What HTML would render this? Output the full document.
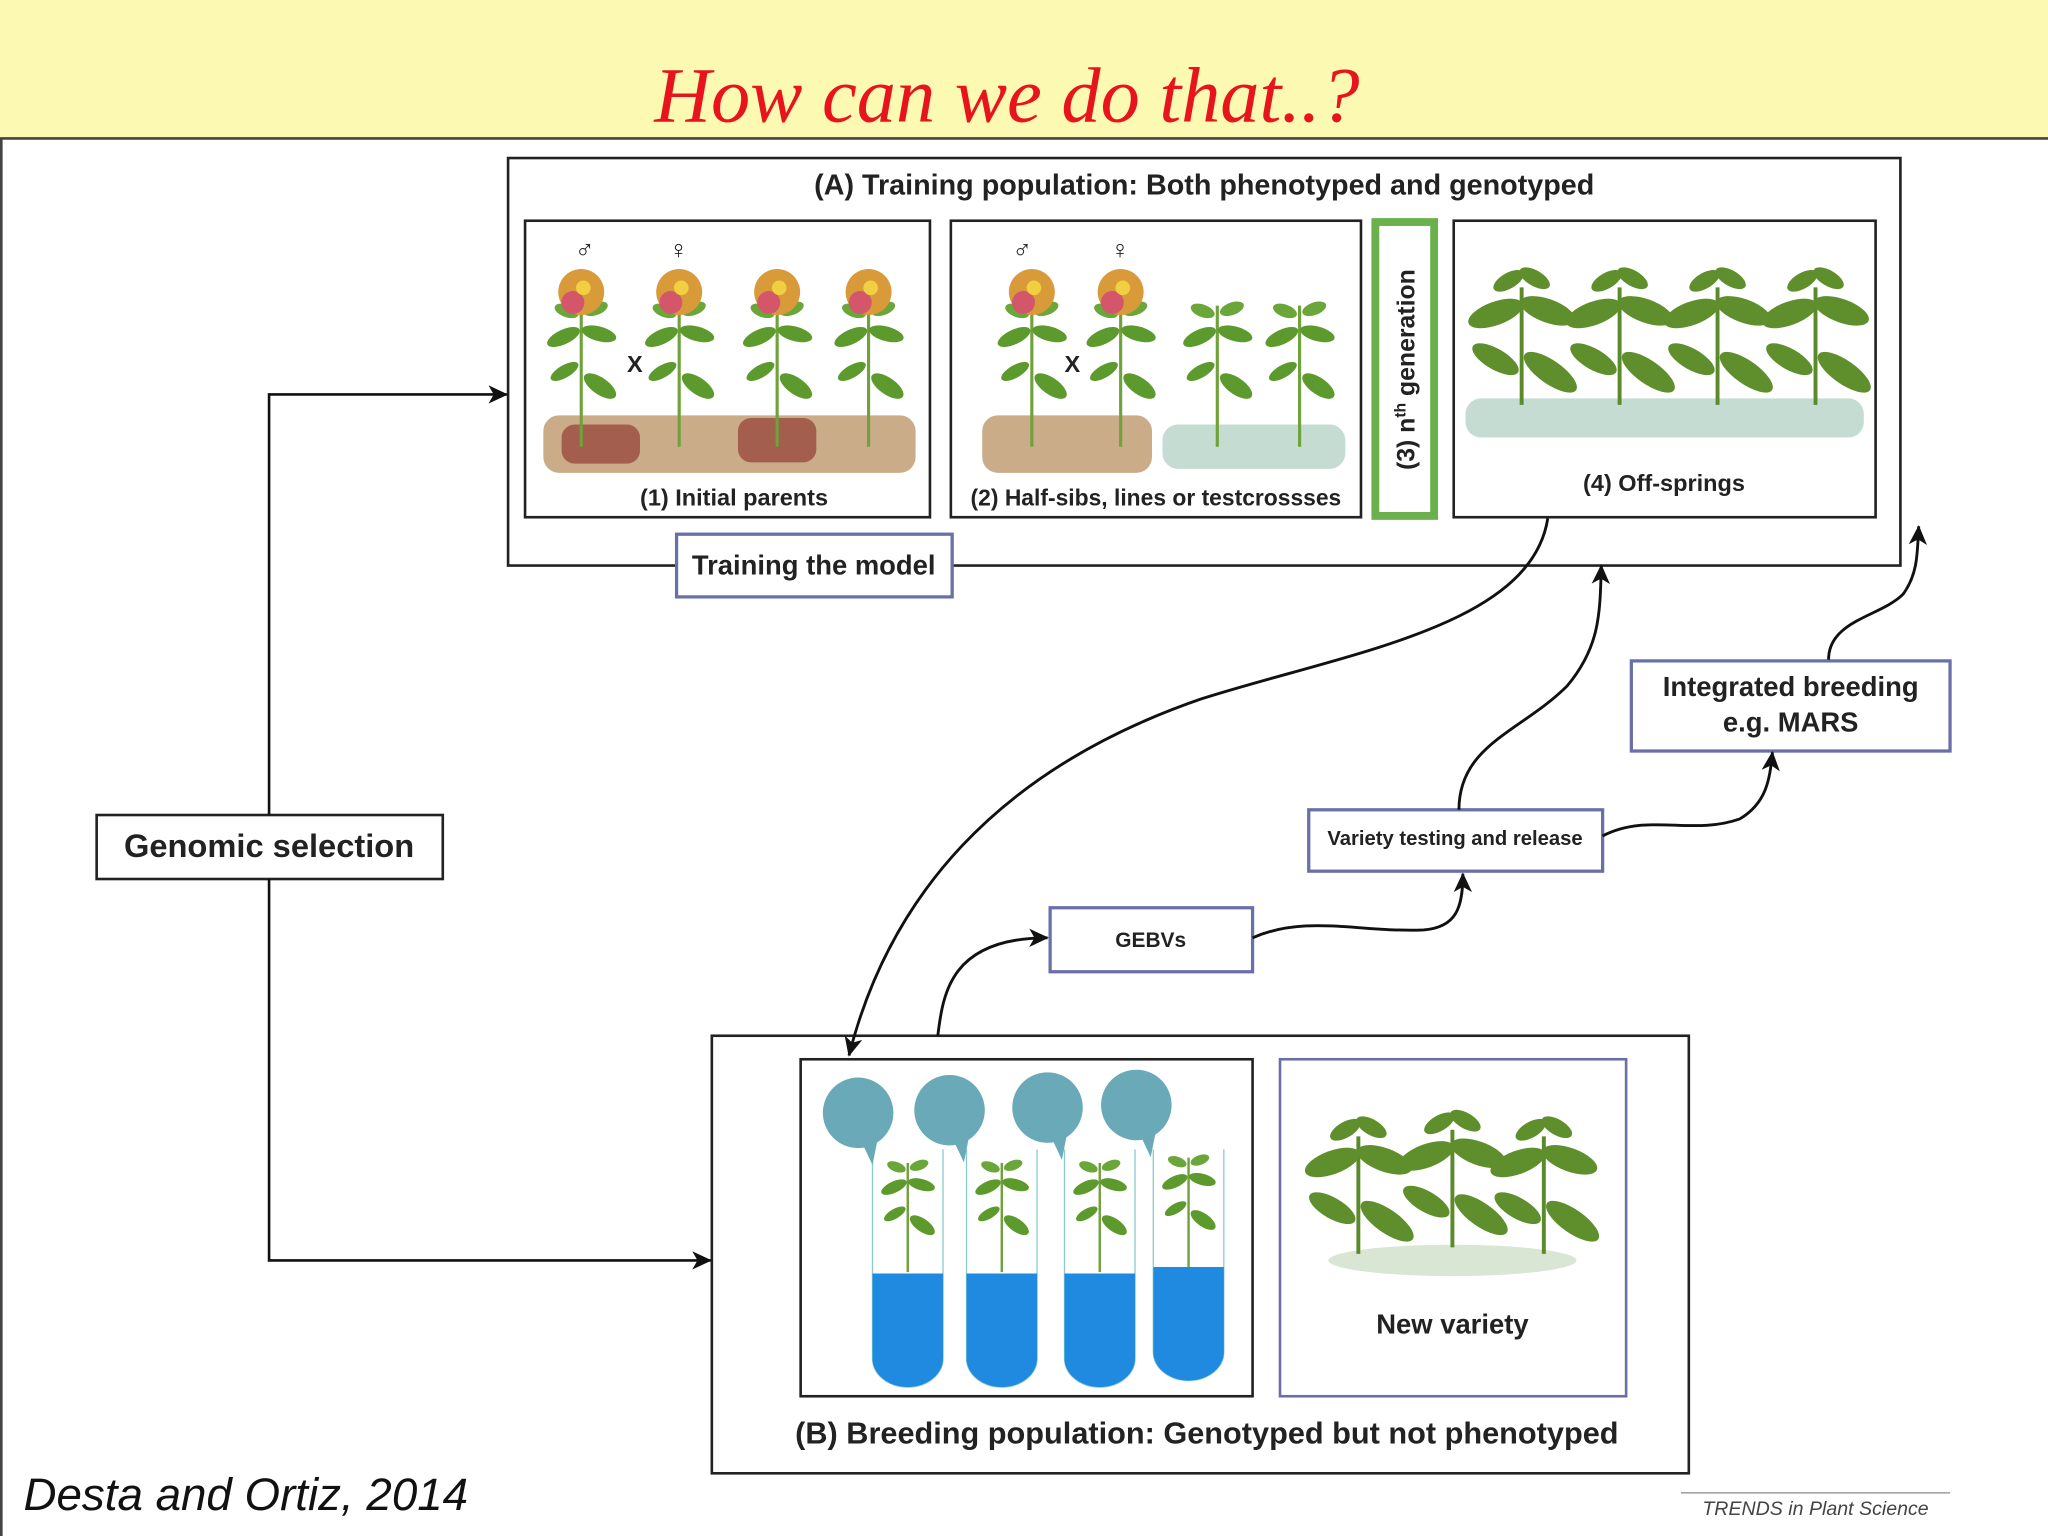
<!DOCTYPE html>
<html><head><meta charset="utf-8"><style>
html,body{margin:0;padding:0;background:#fff}
svg{display:block}
</style></head><body>
<svg width="2048" height="1536" viewBox="0 0 1568 1176" xmlns="http://www.w3.org/2000/svg">
<defs>
<marker id="ah" markerWidth="16" markerHeight="14" refX="14" refY="7" orient="auto" markerUnits="userSpaceOnUse">
<path d="M0,0 L15,7 L0,14 L4,7 z" fill="#111"/></marker>
<symbol id="plant" overflow="visible">
<line x1="0" y1="0" x2="0" y2="-135" stroke="#6fa23a" stroke-width="3"/>
<ellipse cx="-17" cy="-105" rx="17" ry="7" transform="rotate(-25 -17 -105)" fill="#5d9a2e"/>
<ellipse cx="17" cy="-108" rx="17" ry="7" transform="rotate(15 17 -108)" fill="#5d9a2e"/>
<ellipse cx="-16" cy="-72" rx="15" ry="6" transform="rotate(-30 -16 -72)" fill="#5d9a2e"/>
<ellipse cx="18" cy="-58" rx="18" ry="8" transform="rotate(35 18 -58)" fill="#5d9a2e"/>
<ellipse cx="-14" cy="-130" rx="12" ry="6" transform="rotate(20 -14 -130)" fill="#6aa63a"/>
<ellipse cx="14" cy="-132" rx="12" ry="6" transform="rotate(-20 14 -132)" fill="#6aa63a"/>
</symbol>
<symbol id="fplant" overflow="visible">
<use href="#plant"/>
<circle cx="0" cy="-148" r="22" fill="#d99a3a"/>
<circle cx="-8" cy="-138" r="11" fill="#d4566a"/>
<circle cx="2" cy="-152" r="7" fill="#f0d040"/>
</symbol>
<symbol id="lplant" overflow="visible">
<line x1="0" y1="0" x2="0" y2="-90" stroke="#5b8a2a" stroke-width="3"/>
<ellipse cx="-20" cy="-70" rx="22" ry="9" transform="rotate(-20 -20 -70)" fill="#5f8f2c"/>
<ellipse cx="20" cy="-72" rx="22" ry="9" transform="rotate(20 20 -72)" fill="#5f8f2c"/>
<ellipse cx="-20" cy="-35" rx="20" ry="8" transform="rotate(30 -20 -35)" fill="#5f8f2c"/>
<ellipse cx="22" cy="-25" rx="24" ry="9" transform="rotate(35 22 -25)" fill="#5f8f2c"/>
<ellipse cx="-10" cy="-95" rx="13" ry="6" transform="rotate(-30 -10 -95)" fill="#5f8f2c"/>
<ellipse cx="10" cy="-97" rx="13" ry="6" transform="rotate(30 10 -97)" fill="#5f8f2c"/>
</symbol>
</defs>
<rect x="0" y="0" width="1568" height="106" fill="#fbf9b2"/>
<line x1="0" y1="106" x2="1568" y2="106" stroke="#444" stroke-width="2"/>
<line x1="1" y1="106" x2="1" y2="1176" stroke="#444" stroke-width="2"/>
<text x="771" y="93" text-anchor="middle" font-family="Liberation Serif, serif" font-style="italic" font-size="60" fill="#e8141c">How can we do that..?</text>

<g font-family="Liberation Sans, sans-serif" font-weight="bold" fill="#222">
<rect x="389" y="121" width="1066" height="312" fill="none" stroke="#222" stroke-width="2"/>
<text x="922" y="149" text-anchor="middle" font-size="22">(A) Training population: Both phenotyped and genotyped</text>
<rect x="402" y="169" width="310" height="227" fill="#fff" stroke="#222" stroke-width="2"/>
<rect x="728" y="169" width="314" height="227" fill="#fff" stroke="#222" stroke-width="2"/>
<rect x="1053" y="170" width="45" height="225" fill="#fff" stroke="#6ab04c" stroke-width="6"/>
<text transform="translate(1083,283) rotate(-90)" text-anchor="middle" font-size="19">(3) n<tspan font-size="12" dy="-7">th</tspan><tspan dy="7"> generation</tspan></text>
<rect x="1113" y="169" width="323" height="227" fill="#fff" stroke="#222" stroke-width="2"/>

<!-- panel 1 -->
<rect x="416" y="318" width="285" height="44" rx="12" fill="#a9743a" opacity="0.6"/>
<rect x="430" y="325" width="60" height="30" rx="10" fill="#8b2a24" opacity="0.6"/>
<rect x="565" y="320" width="60" height="34" rx="10" fill="#8b2a24" opacity="0.6"/>
<use href="#fplant" transform="translate(445,342) scale(0.8)"/><use href="#fplant" transform="translate(520,342) scale(0.8)"/><use href="#fplant" transform="translate(595,342) scale(0.8)"/><use href="#fplant" transform="translate(665,342) scale(0.8)"/>
<text x="480" y="285" font-size="18">X</text>
<text x="440" y="198" font-size="20" font-weight="normal">♂</text><text x="512" y="198" font-size="20" font-weight="normal">♀</text>
<text x="562" y="387" text-anchor="middle" font-size="18">(1) Initial parents</text>
<!-- panel 2 -->
<rect x="752" y="318" width="130" height="44" rx="12" fill="#a9743a" opacity="0.6"/>
<rect x="890" y="325" width="140" height="34" rx="12" fill="#9fc4b4" opacity="0.6"/>
<use href="#fplant" transform="translate(790,342) scale(0.8)"/><use href="#fplant" transform="translate(858,342) scale(0.8)"/>
<use href="#plant" transform="translate(932,342) scale(0.8)"/><use href="#plant" transform="translate(995,342) scale(0.8)"/>
<text x="815" y="285" font-size="18">X</text>
<text x="775" y="198" font-size="20" font-weight="normal">♂</text><text x="850" y="198" font-size="20" font-weight="normal">♀</text>
<text x="885" y="387" text-anchor="middle" font-size="17.5">(2) Half-sibs, lines or testcrossses</text>
<!-- panel 4 -->
<rect x="1122" y="305" width="305" height="30" rx="12" fill="#9fc4b4" opacity="0.6"/>
<use href="#lplant" x="1165" y="310"/><use href="#lplant" x="1240" y="310"/><use href="#lplant" x="1315" y="310"/><use href="#lplant" x="1390" y="310"/>
<text x="1274" y="376" text-anchor="middle" font-size="18">(4) Off-springs</text>

<rect x="518" y="409" width="211" height="48" fill="#fff" stroke="#6a6fa8" stroke-width="2.5"/>
<text x="623" y="440" text-anchor="middle" font-size="21">Training the model</text>

<rect x="74" y="624" width="265" height="49" fill="#fff" stroke="#222" stroke-width="2"/>
<text x="206" y="656" text-anchor="middle" font-size="25">Genomic selection</text>

<polyline points="206,624 206,302 388,302" fill="none" stroke="#111" stroke-width="2" marker-end="url(#ah)"/>
<polyline points="206,673 206,965 544,965" fill="none" stroke="#111" stroke-width="2" marker-end="url(#ah)"/>

<rect x="545" y="793" width="748" height="335" fill="#fff" stroke="#222" stroke-width="2"/>
<rect x="613" y="811" width="346" height="258" fill="#fff" stroke="#222" stroke-width="2"/>
<rect x="980" y="811" width="265" height="258" fill="#fff" stroke="#6a6fa8" stroke-width="2"/>
<text x="924" y="1105" text-anchor="middle" font-size="23.5">(B) Breeding population: Genotyped but not phenotyped</text>
<text x="1112" y="1021" text-anchor="middle" font-size="21">New variety</text>
<!-- tubes -->
<g>
<path d="M668,880 L668,1040 A27,22 0 0 0 722,1040 L722,880" fill="#fff" stroke="#8cc" stroke-width="1"/>
<path d="M668,975 L668,1040 A27,22 0 0 0 722,1040 L722,975 z" fill="#1f8ae0"/>
<path d="M740,880 L740,1040 A27,22 0 0 0 794,1040 L794,880" fill="#fff" stroke="#8cc" stroke-width="1"/>
<path d="M740,975 L740,1040 A27,22 0 0 0 794,1040 L794,975 z" fill="#1f8ae0"/>
<path d="M815,880 L815,1040 A27,22 0 0 0 869,1040 L869,880" fill="#fff" stroke="#8cc" stroke-width="1"/>
<path d="M815,975 L815,1040 A27,22 0 0 0 869,1040 L869,975 z" fill="#1f8ae0"/>
<path d="M883,880 L883,1035 A27,22 0 0 0 937,1035 L937,880" fill="#fff" stroke="#8cc" stroke-width="1"/>
<path d="M883,970 L883,1035 A27,22 0 0 0 937,1035 L937,970 z" fill="#1f8ae0"/>
<use href="#plant" transform="translate(695,974) scale(0.62)"/>
<use href="#plant" transform="translate(767,974) scale(0.62)"/><use href="#plant" transform="translate(842,974) scale(0.62)"/><use href="#plant" transform="translate(910,970) scale(0.62)"/>
<circle cx="657" cy="852" r="27" fill="#6aa9b8"/><path d="M660,875 L668,892 L672,872z" fill="#6aa9b8"/>
<circle cx="727" cy="850" r="27" fill="#6aa9b8"/><path d="M730,873 L738,890 L742,870z" fill="#6aa9b8"/>
<circle cx="802" cy="848" r="27" fill="#6aa9b8"/><path d="M805,871 L813,888 L817,868z" fill="#6aa9b8"/>
<circle cx="870" cy="846" r="27" fill="#6aa9b8"/><path d="M873,869 L881,886 L885,866z" fill="#6aa9b8"/>
</g>
<ellipse cx="1112" cy="965" rx="95" ry="12" fill="#c8dcc0" opacity="0.7"/>
<use href="#lplant" x="1040" y="960"/><use href="#lplant" x="1112" y="955"/><use href="#lplant" x="1182" y="960"/>

<rect x="804" y="695" width="155" height="49" fill="#fff" stroke="#6a6fa8" stroke-width="2.5"/>
<text x="881" y="725" text-anchor="middle" font-size="16">GEBVs</text>
<rect x="1002" y="620" width="225" height="47" fill="#fff" stroke="#6a6fa8" stroke-width="2.5"/>
<text x="1114" y="647" text-anchor="middle" font-size="15.5">Variety testing and release</text>
<rect x="1249" y="506" width="244" height="69" fill="#fff" stroke="#6a6fa8" stroke-width="2.5"/>
<text x="1371" y="533" text-anchor="middle" font-size="21">Integrated breeding</text>
<text x="1371" y="560" text-anchor="middle" font-size="21">e.g. MARS</text>
</g>

<g fill="none" stroke="#111" stroke-width="2.2">
<path d="M1185,397 C1172,480 1030,500 920,535 C760,590 680,690 650,808" marker-end="url(#ah)"/>
<path d="M718,793 C722,760 728,718 802,718" marker-end="url(#ah)"/>
<path d="M959,718 C1000,700 1040,714 1090,712 C1115,710 1120,695 1120,669" marker-end="url(#ah)"/>
<path d="M1117,620 C1117,570 1165,560 1200,525 C1225,495 1225,470 1226,433" marker-end="url(#ah)"/>
<path d="M1227,640 C1262,622 1295,640 1332,627 C1352,615 1355,598 1357,576" marker-end="url(#ah)"/>
<path d="M1400,505 C1400,475 1440,472 1457,455 C1468,440 1468,425 1469,403" marker-end="url(#ah)"/>
</g>

<text x="18" y="1156" font-family="Liberation Sans, sans-serif" font-style="italic" font-size="35" fill="#111">Desta and Ortiz, 2014</text>
<line x1="1287" y1="1143" x2="1493" y2="1143" stroke="#888" stroke-width="1"/>
<text x="1390" y="1160" text-anchor="middle" font-family="Liberation Sans, sans-serif" font-style="italic" font-size="15" fill="#444">TRENDS in Plant Science</text>
</svg>
</body></html>
